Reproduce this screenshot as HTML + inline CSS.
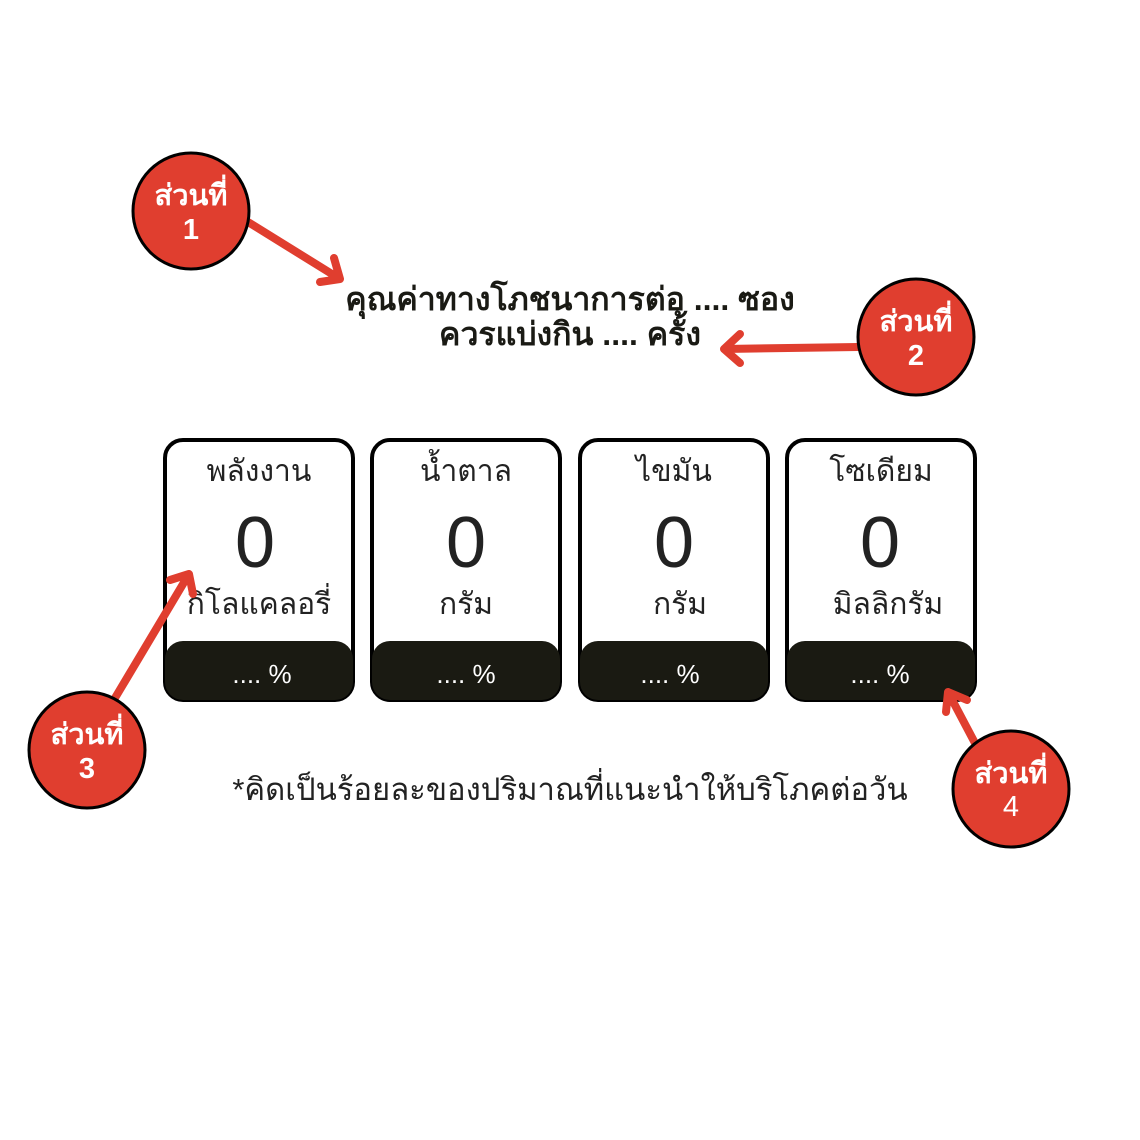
<!DOCTYPE html>
<html><head><meta charset="utf-8"><style>
html,body{margin:0;padding:0;background:#fff;}
svg{display:block;}
text{font-family:"Liberation Sans","DejaVu Sans",sans-serif;}
</style></head><body>
<svg width="1140" height="1140" viewBox="0 0 1140 1140" xmlns="http://www.w3.org/2000/svg">
<rect width="1140" height="1140" fill="#fff"/>
<g fill="#1a1a14" font-weight="bold" font-size="32" text-anchor="middle">
<text x="570" y="310">คุณค่าทางโภชนาการต่อ .... ซอง</text>
<text x="570" y="345">ควรแบ่งกิน .... ครั้ง</text>
</g>
<g stroke="#000" stroke-width="4" fill="#fff">
<rect x="165" y="440" width="188" height="260" rx="18"/>
<rect x="372" y="440" width="188" height="260" rx="18"/>
<rect x="580" y="440" width="188" height="260" rx="18"/>
<rect x="787" y="440" width="188" height="260" rx="18"/>
</g>
<g fill="#1a1a12">
<rect x="165" y="641" width="188" height="59" rx="18"/>
<rect x="372" y="641" width="188" height="59" rx="18"/>
<rect x="580" y="641" width="188" height="59" rx="18"/>
<rect x="787" y="641" width="188" height="59" rx="18"/>
</g>
<g fill="#222" text-anchor="middle" font-size="30">
<text x="259" y="481">พลังงาน</text>
<text x="466" y="481">น้ำตาล</text>
<text x="674" y="481">ไขมัน</text>
<text x="881" y="481">โซเดียม</text>
<text x="259" y="614">กิโลแคลอรี่</text>
<text x="466" y="614">กรัม</text>
<text x="680" y="614">กรัม</text>
<text x="888" y="614">มิลลิกรัม</text>
</g>
<g fill="#222" text-anchor="middle" font-size="72">
<text x="255" y="567">0</text>
<text x="466" y="567">0</text>
<text x="674" y="567">0</text>
<text x="880" y="567">0</text>
</g>
<g fill="#fff" text-anchor="middle" font-size="26">
<text x="262" y="683">.... %</text>
<text x="466" y="683">.... %</text>
<text x="670" y="683">.... %</text>
<text x="880" y="683">.... %</text>
</g>
<text x="570" y="800" fill="#222" font-size="31" text-anchor="middle">*คิดเป็นร้อยละของปริมาณที่แนะนำให้บริโภคต่อวัน</text>
<g stroke="#e03e2f" stroke-width="8" fill="none" stroke-linecap="round" stroke-linejoin="round">
<path d="M248 222 L340 279 M320 282 L340 279 L334 258"/>
<path d="M858 347 L724 349 M740 334 L724 349 L740 363"/>
<path d="M115 698 L189 574 M170 580 L189 574 L193 594"/>
<path d="M976 745 L948 692 M946 712 L948 692 L967 700"/>
</g>
<g fill="#e03e2f" stroke="#000" stroke-width="3">
<circle cx="191" cy="211" r="58"/>
<circle cx="916" cy="337" r="58"/>
<circle cx="87" cy="750" r="58"/>
<circle cx="1011" cy="789" r="58"/>
</g>
<g fill="#fff" font-weight="bold" font-size="29" text-anchor="middle">
<text x="191" y="205">ส่วนที่</text><text x="191" y="239">1</text>
<text x="916" y="331">ส่วนที่</text><text x="916" y="365">2</text>
<text x="87" y="744">ส่วนที่</text><text x="87" y="778">3</text>
<text x="1011" y="783">ส่วนที่</text><text x="1011" y="816" font-weight="normal">4</text>
</g>
</svg>
</body></html>
